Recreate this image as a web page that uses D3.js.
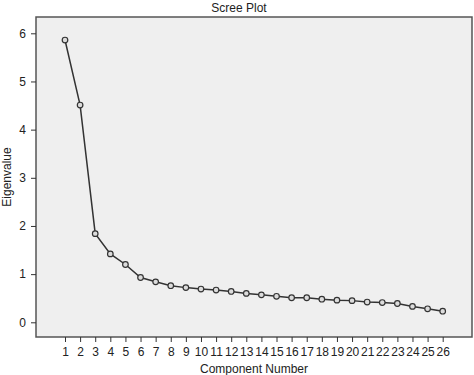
<!DOCTYPE html>
<html><head><meta charset="utf-8">
<script src="https://cdn.jsdelivr.net/npm/d3@7"></script>
<style>body{margin:0;background:#fff}svg{display:block}text{font-family:"Liberation Sans",Arial,sans-serif;fill:#222}</style>
</head><body><svg id="c" width="474" height="375"></svg>
<script>
const components = d3.range(1, 27);
const eigenvalues = [5.86,4.51,1.84,1.42,1.20,0.93,0.84,0.76,0.72,0.69,0.67,0.64,0.60,0.57,0.54,0.51,0.51,0.48,0.46,0.45,0.42,0.41,0.39,0.33,0.28,0.23];
const yTicks = [0,1,2,3,4,5,6];
const title = "Scree Plot";
const xTitle = "Component Number";
const yTitle = "Eigenvalue";

const svg = d3.select("#c");
const box = {l:36, t:17, r:472, b:337};
const x = d3.scaleLinear().domain([1,26]).range([65,442.7]);
const y = d3.scaleLinear().domain([0,6]).range([322.3,33.3]);

svg.append("rect").attr("x",box.l).attr("y",box.t).attr("width",box.r-box.l).attr("height",box.b-box.t)
  .attr("fill","#efefef").attr("stroke","#555").attr("stroke-width",1.5);

const xa = svg.append("g").attr("transform",`translate(0,${box.b})`)
  .call(d3.axisBottom(x).tickValues(components).tickSize(5).tickPadding(5).tickFormat(d3.format("d")));
xa.select(".domain").remove();
xa.selectAll("line").attr("stroke","#333");
xa.selectAll("text").attr("font-size",12).attr("fill","#222");

const ya = svg.append("g").attr("transform",`translate(${box.l},0)`)
  .call(d3.axisLeft(y).tickValues(yTicks).tickSize(5).tickPadding(5).tickFormat(d3.format("d")));
ya.select(".domain").remove();
ya.selectAll("line").attr("stroke","#333");
ya.selectAll("text").attr("font-size",12).attr("fill","#222");

svg.append("text").attr("x",239).attr("y",12).attr("text-anchor","middle").attr("font-size",12).text(title);
svg.append("text").attr("x",254).attr("y",373).attr("text-anchor","middle").attr("font-size",12).text(xTitle);
svg.append("text").attr("transform","translate(11,177) rotate(-90)").attr("text-anchor","middle").attr("font-size",12).text(yTitle);

const data = components.map((c,i)=>({c, v:eigenvalues[i]}));
svg.append("path").datum(data).attr("fill","none").attr("stroke","#333").attr("stroke-width",1.5)
  .attr("d", d3.line().x(d=>x(d.c)).y(d=>y(d.v)));
svg.selectAll("circle.pt").data(data).join("circle").attr("class","pt")
  .attr("cx",d=>x(d.c)).attr("cy",d=>y(d.v)).attr("r",2.8)
  .attr("fill","#dcdcdc").attr("stroke","#333").attr("stroke-width",1.2);
</script></body></html>
